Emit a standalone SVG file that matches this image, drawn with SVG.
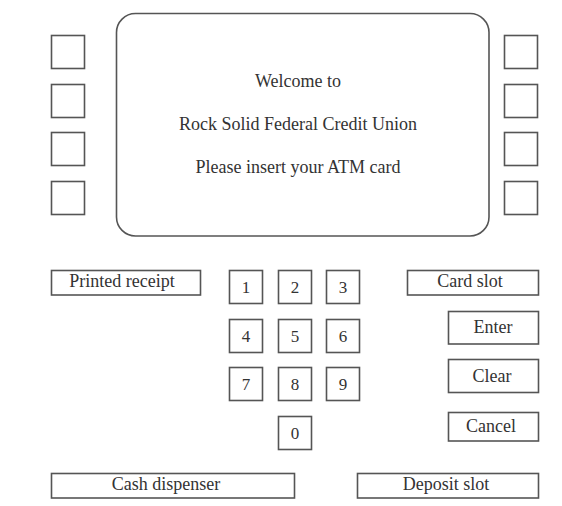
<svg xmlns="http://www.w3.org/2000/svg" width="562" height="506" viewBox="0 0 562 506">
<style>
.b{fill:#fff;stroke:#555;stroke-width:1.6}
.t{font-family:"Liberation Serif","Times New Roman",serif;font-size:18px;fill:#333;text-anchor:middle}
.d{font-family:"Liberation Serif","Times New Roman",serif;font-size:17px;fill:#333;text-anchor:middle}
</style>
<rect width="562" height="506" fill="#fff"/>
<g id="screen">
<rect class="b" x="116.5" y="13.5" width="372.5" height="222.5" rx="19" ry="19"/>
<text class="t" x="298" y="87">Welcome to</text>
<text class="t" x="298" y="130">Rock Solid Federal Credit Union</text>
<text class="t" x="298" y="173">Please insert your ATM card</text>
</g>
<g id="left-buttons">
<rect class="b" x="51.5" y="35.5" width="33" height="33"/>
<rect class="b" x="51.5" y="84.5" width="33" height="33"/>
<rect class="b" x="51.5" y="132.5" width="33" height="33"/>
<rect class="b" x="51.5" y="181.5" width="33" height="33"/>
</g>
<g id="right-buttons">
<rect class="b" x="504.5" y="35.5" width="33" height="33"/>
<rect class="b" x="504.5" y="84.5" width="33" height="33"/>
<rect class="b" x="504.5" y="132.5" width="33" height="33"/>
<rect class="b" x="504.5" y="181.5" width="33" height="33"/>
</g>
<g id="printed-receipt">
<rect class="b" x="51.5" y="270.5" width="149" height="24.5"/>
<text class="t" x="122" y="287">Printed receipt</text>
</g>
<g id="keypad">
<rect class="b" x="229.5" y="270.5" width="33" height="33"/><text class="d" x="246" y="293">1</text>
<rect class="b" x="278.5" y="270.5" width="33" height="33"/><text class="d" x="295" y="293">2</text>
<rect class="b" x="326.5" y="270.5" width="33" height="33"/><text class="d" x="343" y="293">3</text>
<rect class="b" x="229.5" y="319.5" width="33" height="33"/><text class="d" x="246" y="342">4</text>
<rect class="b" x="278.5" y="319.5" width="33" height="33"/><text class="d" x="295" y="342">5</text>
<rect class="b" x="326.5" y="319.5" width="33" height="33"/><text class="d" x="343" y="342">6</text>
<rect class="b" x="229.5" y="367.5" width="33" height="33"/><text class="d" x="246" y="390">7</text>
<rect class="b" x="278.5" y="367.5" width="33" height="33"/><text class="d" x="295" y="390">8</text>
<rect class="b" x="326.5" y="367.5" width="33" height="33"/><text class="d" x="343" y="390">9</text>
<rect class="b" x="278.5" y="416.5" width="33" height="33"/><text class="d" x="295" y="439">0</text>
</g>
<g id="card-slot">
<rect class="b" x="407.5" y="270.5" width="131" height="24.5"/>
<text class="t" x="470" y="287">Card slot</text>
</g>
<g id="enter">
<rect class="b" x="448.5" y="311.5" width="90" height="32.5"/>
<text class="t" x="493" y="333">Enter</text>
</g>
<g id="clear">
<rect class="b" x="448.5" y="359.5" width="90" height="33"/>
<text class="t" x="492" y="382">Clear</text>
</g>
<g id="cancel">
<rect class="b" x="448.5" y="412.5" width="90" height="28.5"/>
<text class="t" x="491" y="432">Cancel</text>
</g>
<g id="cash-dispenser">
<rect class="b" x="51.5" y="473.5" width="243" height="24.5"/>
<text class="t" x="166" y="490">Cash dispenser</text>
</g>
<g id="deposit-slot">
<rect class="b" x="357.5" y="473.5" width="181" height="24.5"/>
<text class="t" x="446" y="490">Deposit slot</text>
</g>
<g id="connectors"/>
</svg>
